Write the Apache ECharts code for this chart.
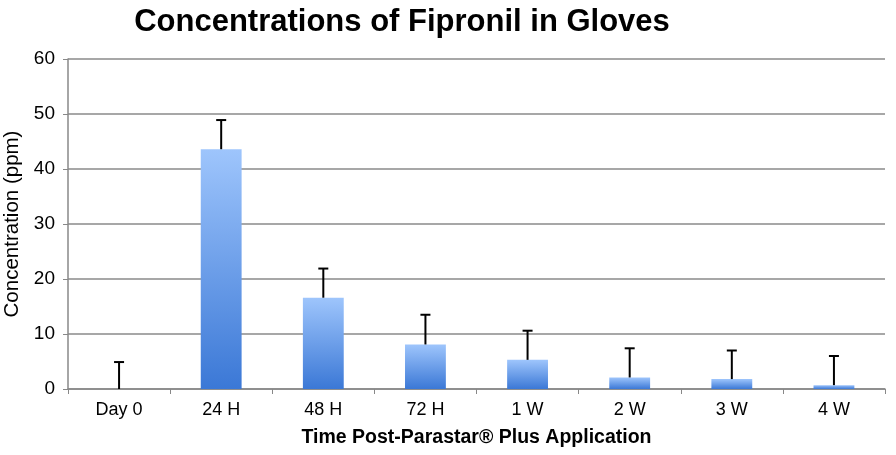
<!DOCTYPE html>
<html><head><meta charset="utf-8">
<script src="https://cdn.jsdelivr.net/npm/echarts@6/dist/echarts.min.js"></script>
<style>html,body{margin:0;padding:0;background:#fff}#c{width:896px;height:455px}</style>
</head><body><div id="c"></div>
<script>
const categories = ['Day 0','24 H','48 H','72 H','1 W','2 W','3 W','4 W'];
const concentration = [0, 43.6, 16.6, 8.1, 5.3, 2.1, 1.8, 0.7];
const errorUpper = [4.9, 48.9, 21.9, 13.5, 10.6, 7.4, 7.0, 6.0];
const yTicks = [0, 10, 20, 30, 40, 50, 60];

const chart = echarts.init(document.getElementById('c'));
const font = 'Liberation Sans, Arial, sans-serif';
chart.setOption({
  animation: false,
  backgroundColor: '#fff',
  title: {
    text: 'Concentrations of Fipronil in Gloves',
    left: 397, top: 2, textAlign: 'center',
    textStyle: {fontFamily: font, fontSize: 31, fontWeight: 'bold', color: '#000'}
  },
  grid: {left: 68, right: 11, top: 59, bottom: 66, containLabel: false, outerBoundsMode: 'none'},
  xAxis: {
    type: 'category', data: categories,
    axisLine: {lineStyle: {color: '#888', width: 1.5}},
    axisTick: {show: true, length: 5, lineStyle: {color: '#888'}},
    axisLabel: {fontFamily: font, fontSize: 18, color: '#000', margin: 12},
    name: 'Time Post-Parastar® Plus Application',
    nameLocation: 'middle', nameGap: 39,
    nameTextStyle: {fontFamily: font, fontSize: 19.5, fontWeight: 'bold', color: '#000'}
  },
  yAxis: {
    type: 'value', min: yTicks[0], max: yTicks[yTicks.length-1], interval: 10,
    axisLine: {show: true, lineStyle: {color: '#888', width: 1.5}},
    axisTick: {show: true, length: 5, lineStyle: {color: '#888'}},
    splitLine: {lineStyle: {color: '#8a8a8a', width: 1.5}},
    axisLabel: {fontFamily: font, fontSize: 19, color: '#000', margin: 13},
    name: 'Concentration (ppm)', nameLocation: 'middle', nameGap: 41, nameRotate: 90,
    nameTextStyle: {fontFamily: font, fontSize: 20.5, color: '#000'}
  },
  series: [
    {
      type: 'bar', data: concentration, barWidth: '40%',
      itemStyle: {color: new echarts.graphic.LinearGradient(0,0,0,1,[
        {offset: 0, color: '#9ec5fc'}, {offset: 1, color: '#3b78d6'}])}
    },
    {
      type: 'custom',
      data: categories.map((c, i) => [i, concentration[i], errorUpper[i]]),
      renderItem: function (params, api) {
        const base = api.coord([api.value(0), api.value(1)]);
        const top = api.coord([api.value(0), api.value(2)]);
        const x = base[0], hw = 5;
        const st = {stroke: '#000', lineWidth: 2};
        return {type: 'group', children: [
          {type: 'line', shape: {x1: x, y1: base[1], x2: x, y2: top[1]}, style: st},
          {type: 'line', shape: {x1: x - hw, y1: top[1], x2: x + hw, y2: top[1]}, style: st}
        ]};
      },
      z: 10
    }
  ]
});
</script></body></html>
